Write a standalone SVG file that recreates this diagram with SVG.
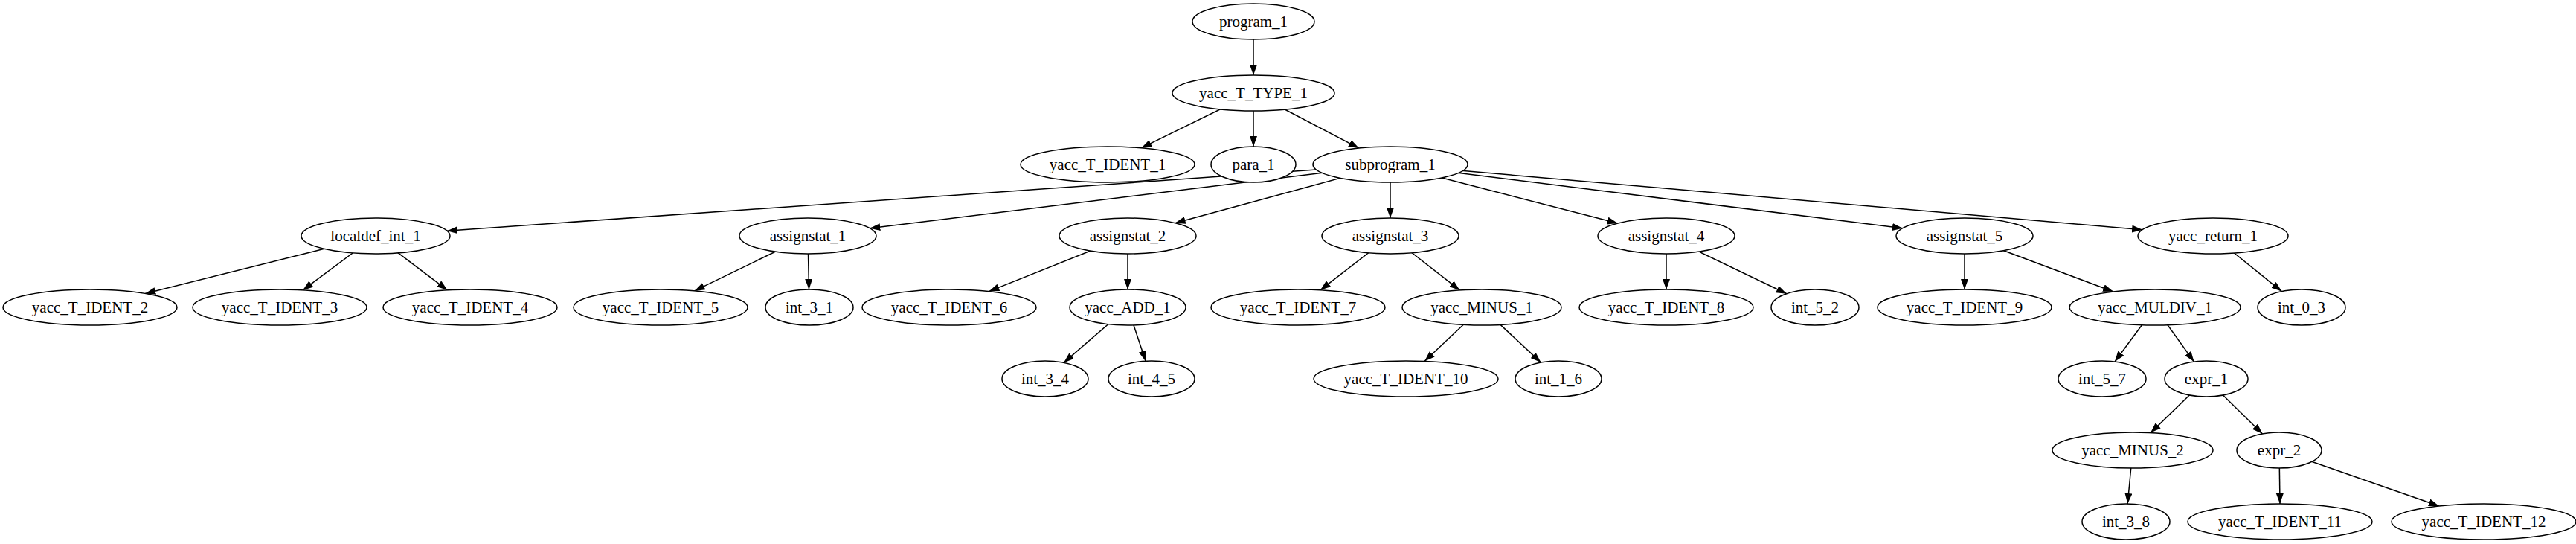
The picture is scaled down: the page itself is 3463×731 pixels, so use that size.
<svg xmlns="http://www.w3.org/2000/svg" width="3463" height="731" viewBox="0 0 3463 731">
<style>
.n ellipse{fill:#fff;stroke:#000;stroke-width:1.5}
.n text{font-family:"Liberation Serif",serif;font-size:21px;text-anchor:middle;dominant-baseline:central;fill:#000}
#edges line{stroke:#000;stroke-width:1.5}
</style>
<defs><marker id="ah" markerUnits="userSpaceOnUse" markerWidth="15" markerHeight="11" refX="14" refY="5" orient="auto"><path d="M0,0 L14,5 L0,10 z" fill="#000"/></marker></defs>
<rect width="3463" height="731" fill="#fff"/>
<g id="edges" marker-end="url(#ah)">
<line x1="1685" y1="29" x2="1685" y2="101" marker-end="url(#ah)"/>
<line x1="1685" y1="125" x2="1534.2" y2="198.9" marker-end="url(#ah)"/>
<line x1="1685" y1="125" x2="1685" y2="197" marker-end="url(#ah)"/>
<line x1="1685" y1="125" x2="1826.9" y2="199.1" marker-end="url(#ah)"/>
<line x1="1869" y1="221" x2="601" y2="310.2" marker-end="url(#ah)"/>
<line x1="1869" y1="221" x2="1169.3" y2="306.8" marker-end="url(#ah)"/>
<line x1="1869" y1="221" x2="1579.7" y2="299.7" marker-end="url(#ah)"/>
<line x1="1869" y1="221" x2="1869" y2="293" marker-end="url(#ah)"/>
<line x1="1869" y1="221" x2="2174.7" y2="300.1" marker-end="url(#ah)"/>
<line x1="1869" y1="221" x2="2557.9" y2="306.7" marker-end="url(#ah)"/>
<line x1="1869" y1="221" x2="2880.1" y2="308.8" marker-end="url(#ah)"/>
<line x1="505" y1="317" x2="195.2" y2="394.4" marker-end="url(#ah)"/>
<line x1="505" y1="317" x2="407.1" y2="389.9" marker-end="url(#ah)"/>
<line x1="505" y1="317" x2="601.4" y2="389.8" marker-end="url(#ah)"/>
<line x1="1086" y1="317" x2="933.6" y2="390.9" marker-end="url(#ah)"/>
<line x1="1086" y1="317" x2="1087.5" y2="389" marker-end="url(#ah)"/>
<line x1="1516" y1="317" x2="1329.4" y2="391.6" marker-end="url(#ah)"/>
<line x1="1516" y1="317" x2="1516" y2="389" marker-end="url(#ah)"/>
<line x1="1869" y1="317" x2="1775" y2="389.8" marker-end="url(#ah)"/>
<line x1="1869" y1="317" x2="1962.4" y2="389.9" marker-end="url(#ah)"/>
<line x1="2240" y1="317" x2="2240" y2="389" marker-end="url(#ah)"/>
<line x1="2240" y1="317" x2="2401.9" y2="394.7" marker-end="url(#ah)"/>
<line x1="2641" y1="317" x2="2641" y2="389" marker-end="url(#ah)"/>
<line x1="2641" y1="317" x2="2841.1" y2="392" marker-end="url(#ah)"/>
<line x1="2975" y1="317" x2="3067.4" y2="391.6" marker-end="url(#ah)"/>
<line x1="1516" y1="413" x2="1430" y2="487.4" marker-end="url(#ah)"/>
<line x1="1516" y1="413" x2="1540.1" y2="485.2" marker-end="url(#ah)"/>
<line x1="1992" y1="413" x2="1915" y2="485.5" marker-end="url(#ah)"/>
<line x1="1992" y1="413" x2="2071.5" y2="487.1" marker-end="url(#ah)"/>
<line x1="2897" y1="413" x2="2843" y2="486" marker-end="url(#ah)"/>
<line x1="2897" y1="413" x2="2949.5" y2="486.1" marker-end="url(#ah)"/>
<line x1="2966" y1="509" x2="2891.1" y2="581.6" marker-end="url(#ah)"/>
<line x1="2966" y1="509" x2="3041.5" y2="583" marker-end="url(#ah)"/>
<line x1="2867" y1="605" x2="2860.2" y2="677" marker-end="url(#ah)"/>
<line x1="3064" y1="605" x2="3065" y2="677" marker-end="url(#ah)"/>
<line x1="3064" y1="605" x2="3278.9" y2="680" marker-end="url(#ah)"/>
</g>
<g id="program_1" class="n"><ellipse cx="1685" cy="29" rx="82" ry="24"/><text x="1685" y="29">program_1</text></g>
<g id="yacc_T_TYPE_1" class="n"><ellipse cx="1685" cy="125" rx="109" ry="24"/><text x="1685" y="125">yacc_T_TYPE_1</text></g>
<g id="yacc_T_IDENT_1" class="n"><ellipse cx="1489" cy="221" rx="117" ry="24"/><text x="1489" y="221">yacc_T_IDENT_1</text></g>
<g id="para_1" class="n"><ellipse cx="1685" cy="221" rx="57" ry="24"/><text x="1685" y="221">para_1</text></g>
<g id="subprogram_1" class="n"><ellipse cx="1869" cy="221" rx="104" ry="24"/><text x="1869" y="221">subprogram_1</text></g>
<g id="localdef_int_1" class="n"><ellipse cx="505" cy="317" rx="100" ry="24"/><text x="505" y="317">localdef_int_1</text></g>
<g id="assignstat_1" class="n"><ellipse cx="1086" cy="317" rx="92" ry="24"/><text x="1086" y="317">assignstat_1</text></g>
<g id="assignstat_2" class="n"><ellipse cx="1516" cy="317" rx="92" ry="24"/><text x="1516" y="317">assignstat_2</text></g>
<g id="assignstat_3" class="n"><ellipse cx="1869" cy="317" rx="92" ry="24"/><text x="1869" y="317">assignstat_3</text></g>
<g id="assignstat_4" class="n"><ellipse cx="2240" cy="317" rx="92" ry="24"/><text x="2240" y="317">assignstat_4</text></g>
<g id="assignstat_5" class="n"><ellipse cx="2641" cy="317" rx="92" ry="24"/><text x="2641" y="317">assignstat_5</text></g>
<g id="yacc_return_1" class="n"><ellipse cx="2975" cy="317" rx="101" ry="24"/><text x="2975" y="317">yacc_return_1</text></g>
<g id="yacc_T_IDENT_2" class="n"><ellipse cx="121" cy="413" rx="117" ry="24"/><text x="121" y="413">yacc_T_IDENT_2</text></g>
<g id="yacc_T_IDENT_3" class="n"><ellipse cx="376" cy="413" rx="117" ry="24"/><text x="376" y="413">yacc_T_IDENT_3</text></g>
<g id="yacc_T_IDENT_4" class="n"><ellipse cx="632" cy="413" rx="117" ry="24"/><text x="632" y="413">yacc_T_IDENT_4</text></g>
<g id="yacc_T_IDENT_5" class="n"><ellipse cx="888" cy="413" rx="117" ry="24"/><text x="888" y="413">yacc_T_IDENT_5</text></g>
<g id="int_3_1" class="n"><ellipse cx="1088" cy="413" rx="59" ry="24"/><text x="1088" y="413">int_3_1</text></g>
<g id="yacc_T_IDENT_6" class="n"><ellipse cx="1276" cy="413" rx="117" ry="24"/><text x="1276" y="413">yacc_T_IDENT_6</text></g>
<g id="yacc_ADD_1" class="n"><ellipse cx="1516" cy="413" rx="78" ry="24"/><text x="1516" y="413">yacc_ADD_1</text></g>
<g id="yacc_T_IDENT_7" class="n"><ellipse cx="1745" cy="413" rx="117" ry="24"/><text x="1745" y="413">yacc_T_IDENT_7</text></g>
<g id="yacc_MINUS_1" class="n"><ellipse cx="1992" cy="413" rx="107" ry="24"/><text x="1992" y="413">yacc_MINUS_1</text></g>
<g id="yacc_T_IDENT_8" class="n"><ellipse cx="2240" cy="413" rx="117" ry="24"/><text x="2240" y="413">yacc_T_IDENT_8</text></g>
<g id="int_5_2" class="n"><ellipse cx="2440" cy="413" rx="59" ry="24"/><text x="2440" y="413">int_5_2</text></g>
<g id="yacc_T_IDENT_9" class="n"><ellipse cx="2641" cy="413" rx="117" ry="24"/><text x="2641" y="413">yacc_T_IDENT_9</text></g>
<g id="yacc_MULDIV_1" class="n"><ellipse cx="2897" cy="413" rx="115" ry="24"/><text x="2897" y="413">yacc_MULDIV_1</text></g>
<g id="int_0_3" class="n"><ellipse cx="3094" cy="413" rx="59" ry="24"/><text x="3094" y="413">int_0_3</text></g>
<g id="int_3_4" class="n"><ellipse cx="1405" cy="509" rx="58" ry="24"/><text x="1405" y="509">int_3_4</text></g>
<g id="int_4_5" class="n"><ellipse cx="1548" cy="509" rx="58" ry="24"/><text x="1548" y="509">int_4_5</text></g>
<g id="yacc_T_IDENT_10" class="n"><ellipse cx="1890" cy="509" rx="124" ry="24"/><text x="1890" y="509">yacc_T_IDENT_10</text></g>
<g id="int_1_6" class="n"><ellipse cx="2095" cy="509" rx="58" ry="24"/><text x="2095" y="509">int_1_6</text></g>
<g id="int_5_7" class="n"><ellipse cx="2826" cy="509" rx="59" ry="24"/><text x="2826" y="509">int_5_7</text></g>
<g id="expr_1" class="n"><ellipse cx="2966" cy="509" rx="56" ry="24"/><text x="2966" y="509">expr_1</text></g>
<g id="yacc_MINUS_2" class="n"><ellipse cx="2867" cy="605" rx="108" ry="24"/><text x="2867" y="605">yacc_MINUS_2</text></g>
<g id="expr_2" class="n"><ellipse cx="3064" cy="605" rx="57" ry="24"/><text x="3064" y="605">expr_2</text></g>
<g id="int_3_8" class="n"><ellipse cx="2858" cy="701" rx="59" ry="24"/><text x="2858" y="701">int_3_8</text></g>
<g id="yacc_T_IDENT_11" class="n"><ellipse cx="3065" cy="701" rx="124" ry="24"/><text x="3065" y="701">yacc_T_IDENT_11</text></g>
<g id="yacc_T_IDENT_12" class="n"><ellipse cx="3339" cy="701" rx="124" ry="24"/><text x="3339" y="701">yacc_T_IDENT_12</text></g>
</svg>
